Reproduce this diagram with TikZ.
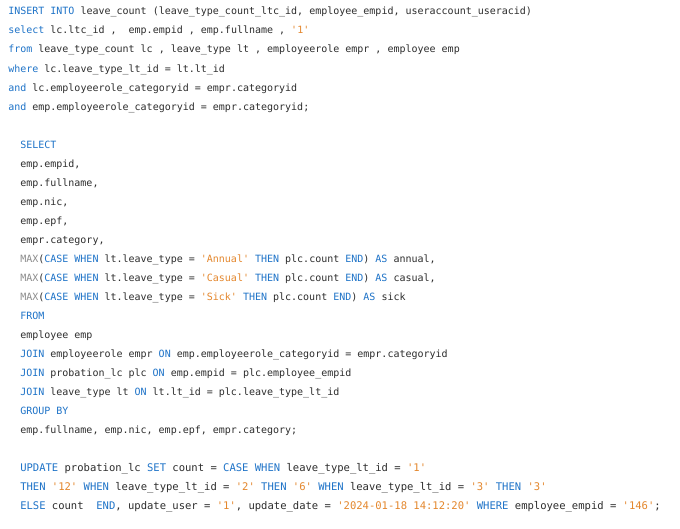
\documentclass[tikz,border=0pt]{standalone}
\usepackage{fontspec}
\setmonofont{DejaVu Sans Mono}
\definecolor{kw}{RGB}{30,115,200}
\definecolor{st}{RGB}{228,135,45}
\definecolor{fn}{RGB}{140,140,140}
\definecolor{tx}{RGB}{45,45,45}
\newcommand{\kw}[1]{\textcolor{kw}{#1}}
\newcommand{\st}[1]{\textcolor{st}{#1}}
\newcommand{\fn}[1]{\textcolor{fn}{#1}}
\begin{document}
\begin{tikzpicture}[x=0.75pt,y=-0.75pt,
  ln/.style={anchor=base west,inner sep=0pt,text=tx,font=\ttfamily\fontsize{7.5}{8}\selectfont},
  lnw/.style={ln,font=\ttfamily\fontsize{7.9}{8}\selectfont}]
\useasboundingbox[fill=white] (0,0) rectangle (680,528);
\node[ln] (l1) at (8,15) {\kw{INSERT INTO} leave\_count (leave\_type\_count\_ltc\_id, employee\_empid, useraccount\_useracid)};
\node[ln] (l2) at (8,34) {\kw{select} lc.ltc\_id ,\ \ emp.empid , emp.fullname , \st{'1'}};
\node[ln] (l3) at (8,53) {\kw{from} leave\_type\_count lc , leave\_type lt , employeerole empr , employee emp};
\node[ln] (l4) at (8,72) {\kw{where} lc.leave\_type\_lt\_id = lt.lt\_id};
\node[ln] (l5) at (8,91) {\kw{and} lc.employeerole\_categoryid = empr.categoryid};
\node[ln] (l6) at (8,110) {\kw{and} emp.employeerole\_categoryid = empr.categoryid;};
\node[ln] (m1) at (20,148) {\kw{SELECT}};
\node[ln] (m2) at (20,167) {emp.empid,};
\node[ln] (m3) at (20,186) {emp.fullname,};
\node[ln] (m4) at (20,205) {emp.nic,};
\node[ln] (m5) at (20,224) {emp.epf,};
\node[ln] (m6) at (20,243) {empr.category,};
\node[ln] (m7) at (20,262) {\fn{MAX}(\kw{CASE WHEN} lt.leave\_type = \st{'Annual'} \kw{THEN} plc.count \kw{END}) \kw{AS} annual,};
\node[ln] (m8) at (20,281) {\fn{MAX}(\kw{CASE WHEN} lt.leave\_type = \st{'Casual'} \kw{THEN} plc.count \kw{END}) \kw{AS} casual,};
\node[ln] (m9) at (20,300) {\fn{MAX}(\kw{CASE WHEN} lt.leave\_type = \st{'Sick'} \kw{THEN} plc.count \kw{END}) \kw{AS} sick};
\node[ln] (m10) at (20,319) {\kw{FROM}};
\node[ln] (m11) at (20,338) {employee emp};
\node[ln] (m12) at (20,357) {\kw{JOIN} employeerole empr \kw{ON} emp.employeerole\_categoryid = empr.categoryid};
\node[ln] (m13) at (20,376) {\kw{JOIN} probation\_lc plc \kw{ON} emp.empid = plc.employee\_empid};
\node[ln] (m14) at (20,395) {\kw{JOIN} leave\_type lt \kw{ON} lt.lt\_id = plc.leave\_type\_lt\_id};
\node[ln] (m15) at (20,414) {\kw{GROUP BY}};
\node[ln] (m16) at (20,433) {emp.fullname, emp.nic, emp.epf, empr.category;};
\node[lnw] (u1) at (20,471) {\kw{UPDATE} probation\_lc \kw{SET} count = \kw{CASE WHEN} leave\_type\_lt\_id = \st{'1'}};
\node[lnw] (u2) at (20,490) {\kw{THEN} \st{'12'} \kw{WHEN} leave\_type\_lt\_id = \st{'2'} \kw{THEN} \st{'6'} \kw{WHEN} leave\_type\_lt\_id = \st{'3'} \kw{THEN} \st{'3'}};
\node[lnw] (u3) at (20,509) {\kw{ELSE} count\ \ \kw{END}, update\_user = \st{'1'}, update\_date = \st{'2024-01-18 14:12:20'} \kw{WHERE} employee\_empid = \st{'146'};};
\end{tikzpicture}
\end{document}
